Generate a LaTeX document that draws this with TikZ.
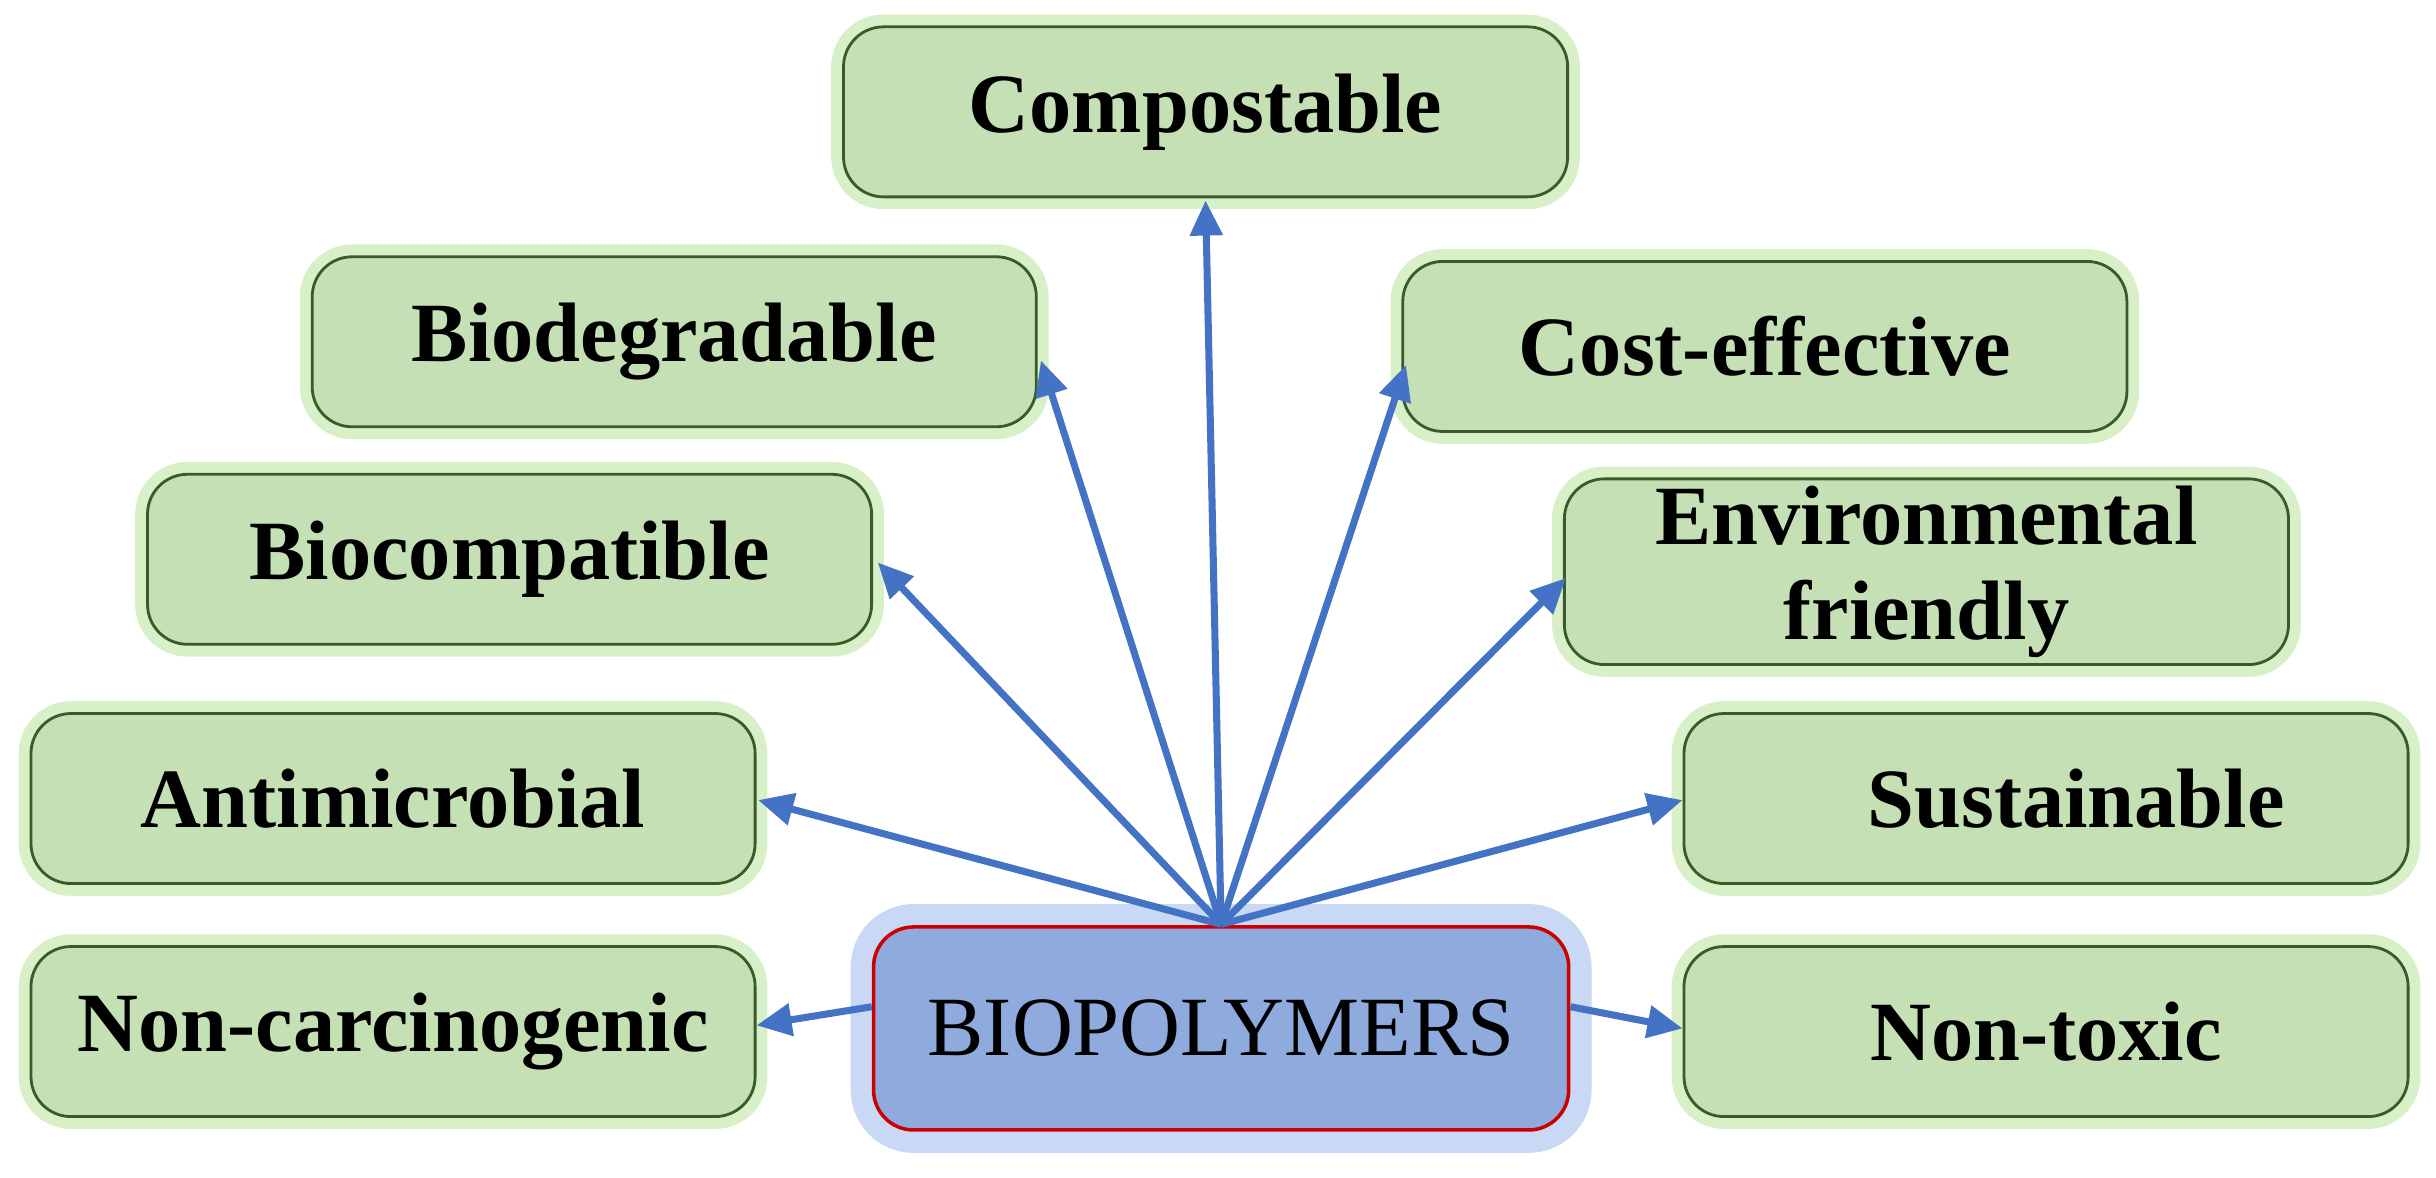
\documentclass[tikz,border=0pt]{standalone}
\usepackage{fontspec}
\setmainfont{Liberation Serif}
\usetikzlibrary{arrows.meta}
\definecolor{gfill}{HTML}{C5E0B4}
\definecolor{gdraw}{HTML}{3B5A2A}
\definecolor{gglow}{HTML}{D8F0C8}
\definecolor{bfill}{HTML}{8FAADC}
\definecolor{bglow}{HTML}{C9D8F5}
\definecolor{arr}{HTML}{4472C4}
\tikzset{
 prop/.style={draw=gdraw, fill=gfill, rounded corners=0.4cm, line width=0.8pt,
   minimum width=7.24cm, minimum height=1.7cm, align=center, inner sep=2pt,
   font=\fontsize{24}{27}\selectfont\bfseries,
   preaction={draw=gglow, line width=7pt}},
 hub/.style={draw=red!80!black, fill=bfill, rounded corners=0.4cm, line width=1pt,
   minimum width=6.95cm, minimum height=2.03cm,
   font=\fontsize{24}{26}\selectfont,
   preaction={draw=bglow, line width=13pt}},
 con/.style={draw=arr, line width=2pt, -{Triangle[length=10pt,width=9pt]}}
}
\begin{document}
\begin{tikzpicture}[x=0.01554cm,y=-0.01554cm]
\useasboundingbox (0,0) rectangle (1568,758);
\fill[white] (0,0) rectangle (1568,758);
\node[prop] (comp) at (776,72) {Compostable};
\node[prop] (biod) at (434,220) {Biodegradable};
\node[prop] (cost) at (1136,223) {Cost-effective};
\node[prop] (bioc) at (328,360) {Biocompatible};
\node[prop] (env) at (1240,368) {Environmental\\friendly};
\node[prop] (anti) at (253,514) {Antimicrobial};
\node[prop] (sust) at (1317,514) {\hspace{0.6cm}Sustainable};
\node[prop] (nonc) at (253,664) {Non-carcinogenic};
\node[prop] (nont) at (1317,664) {Non-toxic};
\node[hub] (bio) at (786,662) {BIOPOLYMERS};
\coordinate (h) at (786,595);
\coordinate (t1) at (776,129);
\coordinate (t2) at (670,232);
\coordinate (t3) at (905,235);
\coordinate (t4) at (565,362);
\coordinate (t5) at (1008,372);
\coordinate (t6) at (488,515);
\coordinate (t7) at (1083,515);
\draw[con] (h) -- (t1);
\draw[con] (h) -- (t2);
\draw[con] (h) -- (t3);
\draw[con] (h) -- (t4);
\draw[con] (h) -- (t5);
\draw[con] (h) -- (t6);
\draw[con] (h) -- (t7);
\draw[con] (bio.west |- 0,648) -- (nonc.east |- 0,660);
\draw[con] (bio.east |- 0,648) -- (nont.west |- 0,662);
\end{tikzpicture}
\end{document}
